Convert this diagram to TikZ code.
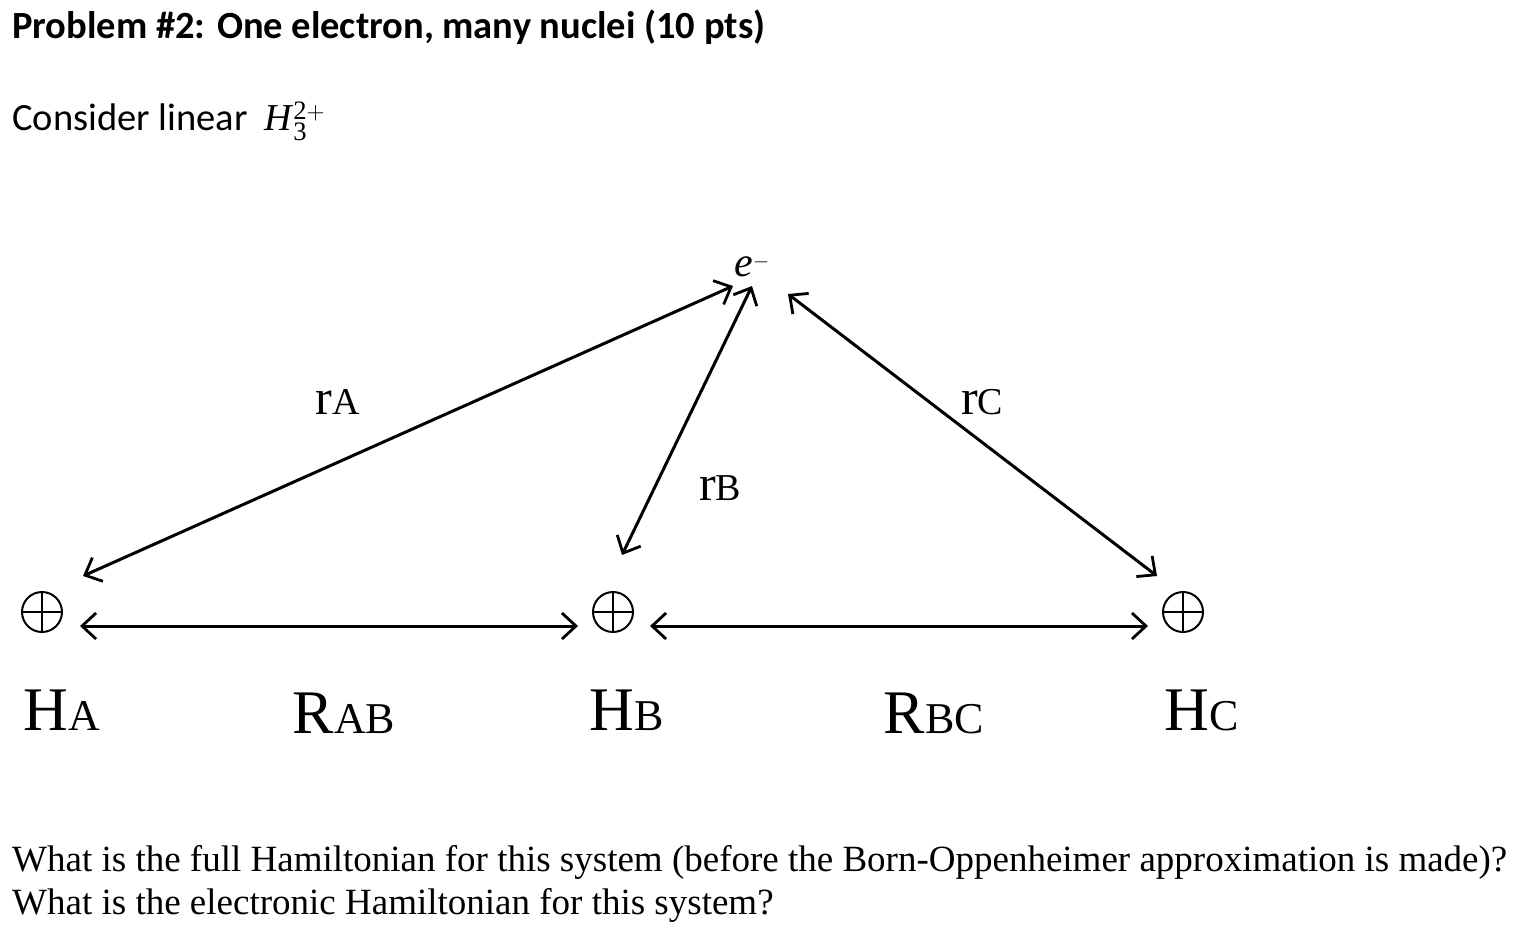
\documentclass[tikz,border=0pt]{standalone}
\usepackage{fontspec}
\setmainfont{Liberation Serif}
\newfontfamily\carlitofont{Carlito}
\usetikzlibrary{arrows.meta}
\begin{document}
\begin{tikzpicture}[x=1pt,y=-1pt,
  arr/.style={line width=3pt,{Straight Barb[length=14pt,width=26pt,line width=2.8pt]}-{Straight Barb[length=14pt,width=26pt,line width=2.8pt]}},
  nuc/.style={circle,draw,line width=2pt,minimum size=40pt,inner sep=0pt},
  lab/.style={font=\fontsize{62}{66}\selectfont,anchor=base},
  rlab/.style={font=\fontsize{50}{54}\selectfont,anchor=base}]
\useasboundingbox (0,0) rectangle (1530,927);
\fill[white] (0,0) rectangle (1530,927);
\node[anchor=base west,inner sep=0pt,font=\carlitofont\bfseries\fontsize{38.5}{44}\selectfont] (title) at (12,38) {Problem \#2: One electron, many nuclei (10 pts)};
\node[anchor=base west,inner sep=0pt,font=\carlitofont\fontsize{38.5}{44}\selectfont] (cons) at (12,130) {Consider linear\ \ {\rmfamily\fontsize{38}{42}\selectfont\itshape H\kern1pt$^{\mathrm{2+}}_{\mathrm{3}}$}};
\node[inner sep=0pt,font=\fontsize{42}{46}\selectfont\itshape] (e) at (752,266) {e$^{\scriptscriptstyle -}$};
\foreach \n/\x in {A/42,B/613,C/1183}{
  \node[nuc] (N\n) at (\x,612) {};
  \draw[line width=2pt] (N\n.north) -- (N\n.south) (N\n.west) -- (N\n.east);
}
\coordinate (eA) at (733,286); \coordinate (eB) at (752,286); \coordinate (eC) at (788,294);
\coordinate (aA) at (83,576); \coordinate (bB) at (622,555); \coordinate (cC) at (1157,576);
\draw[arr] (aA) -- (eA);
\draw[arr] (bB) -- (eB);
\draw[arr] (eC) -- (cC);
\coordinate (r1) at (80,626); \coordinate (r2) at (578,626);
\coordinate (r3) at (650,626); \coordinate (r4) at (1148,626);
\draw[arr] (r1) -- (r2);
\draw[arr] (r3) -- (r4);
\node[rlab] (rA) at (338,414) {r\fontsize{38}{40}\selectfont A};
\node[rlab] (rB) at (720,500) {r\fontsize{38}{40}\selectfont B};
\node[rlab] (rC) at (982,414) {r\fontsize{38}{40}\selectfont C};
\node[lab] (HA) at (62,730) {H\fontsize{44}{48}\selectfont A};
\node[lab] (RAB) at (344,733) {R\fontsize{44}{48}\selectfont AB};
\node[lab] (HB) at (627,730) {H\fontsize{44}{48}\selectfont B};
\node[lab] (RBC) at (934,733) {R\fontsize{44}{48}\selectfont BC};
\node[lab] (HC) at (1202,730) {H\fontsize{44}{48}\selectfont C};
\node[anchor=base west,inner sep=0pt,font=\fontsize{37}{42}\selectfont] (q1) at (12,871) {What is the full Hamiltonian for this system (before the Born-Oppenheimer approximation is made)?};
\node[anchor=base west,inner sep=0pt,font=\fontsize{37}{42}\selectfont] (q2) at (12,914) {What is the electronic Hamiltonian for this system?};
\end{tikzpicture}
\end{document}
